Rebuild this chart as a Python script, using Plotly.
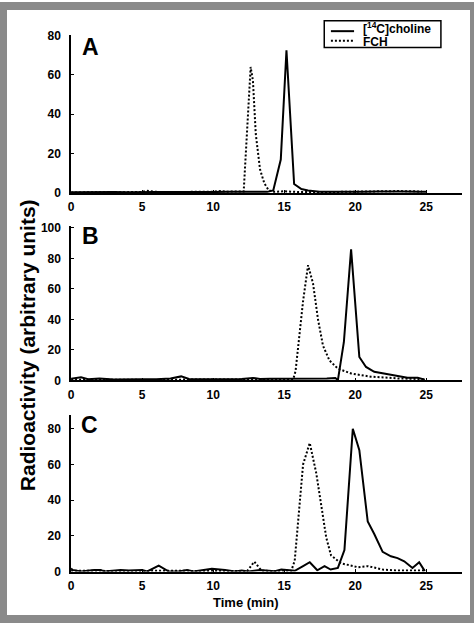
import plotly.graph_objects as go

# ---------------- data ----------------
# Panel A
a_chol_t = [0, 1, 2, 3, 4, 5, 6, 7, 8, 9, 10, 11, 12, 13, 13.8, 14.23, 14.76, 15.16, 15.7, 16.21, 16.68, 17.5, 18.5, 19.5, 20.5, 21.5, 22.5, 23.5, 24.5, 25.0]
a_chol_v = [0.4, 0.5, 0.4, 0.5, 0.4, 0.6, 0.5, 0.5, 0.4, 0.5, 0.5, 0.6, 0.5, 0.5, 0.6, 1.3, 17, 72.5, 4.6, 2.0, 1.3, 0.7, 0.6, 0.6, 0.7, 0.8, 0.9, 0.8, 0.7, 0.6]
a_fch_t = [0, 1, 2, 3, 4, 5, 5.3, 6, 7, 8, 9, 10, 10.5, 11, 11.7, 12.15, 12.64, 12.8, 13.0, 13.3, 13.6, 13.9, 14.2, 15, 16, 17, 18, 19, 20, 21, 22, 23, 24, 24.7]
a_fch_v = [0.3, 0.3, 0.3, 0.4, 0.3, 0.5, 1.2, 0.6, 0.5, 0.5, 0.6, 0.7, 1.0, 0.7, 0.8, 0.8, 64, 57, 30, 12, 5, 1.5, 0.6, 0.9, 0.5, 0.4, 0.5, 0.6, 0.8, 0.9, 0.9, 1.0, 0.9, 0.8]

# Panel B
b_chol_t = [0, 0.7, 1.2, 2, 3, 4, 5, 6, 7, 7.75, 8.3, 9, 10, 11, 12, 12.8, 13.3, 14, 15, 16, 17, 18, 18.6, 18.78, 19.2, 19.71, 20.29, 20.76, 21.34, 22.28, 22.98, 23.68, 24.4, 24.9]
b_chol_v = [1.0, 2.0, 0.8, 1.2, 0.6, 0.8, 0.8, 0.7, 1.2, 2.6, 0.9, 0.8, 0.9, 1.0, 0.9, 1.6, 0.9, 1.0, 1.0, 1.1, 1.2, 1.2, 1.6, 0.2, 25, 86, 15.3, 8.8, 5.6, 3.9, 3.0, 1.7, 1.7, 0.5]
b_fch_t = [0, 2, 4, 6, 8, 10, 12, 14, 15.4, 15.63, 15.8, 16.0, 16.33, 16.68, 17.03, 17.38, 17.73, 18.19, 18.78, 19.71, 21.1, 22.98, 24.9]
b_fch_v = [0.4, 0.3, 0.4, 0.3, 0.5, 0.4, 0.4, 0.4, 0.5, 0.6, 6, 22, 52, 75.5, 63.6, 40, 22.8, 13, 7.7, 4.5, 2.4, 1.3, 0.8]

# Panel C
c_chol_t = [0.0, 0.1, 0.69, 1.62, 2.09, 2.32, 3.49, 4.07, 5.0, 5.36, 6.17, 6.88, 7.58, 8.16, 8.63, 9.44, 9.91, 10.84, 11.54, 12.01, 12.48, 13.29, 13.88, 14.34, 14.8, 15.28, 15.75, 16.33, 16.8, 17.33, 17.84, 18.27, 18.78, 19.24, 19.83, 20.29, 20.88, 21.34, 21.93, 22.51, 22.98, 23.45, 24.03, 24.5, 24.9]
c_chol_v = [1.8, 0.9, 0.0, 0.9, 0.9, 0.0, 0.9, 0.5, 0.9, 0.0, 3.3, 0.0, 0.0, 0.9, 0.0, 0.9, 1.5, 0.9, 0.0, 0.5, 0.0, 0.9, 0.4, 0.2, 1.1, 0.6, 0.4, 3.0, 5.2, 0.7, 3.0, 1.1, 2.0, 12, 80, 68, 28, 21, 11, 8.5, 7.5, 5.7, 2.0, 5.2, 0.2]
c_fch_t = [0, 1, 2, 3, 4, 5, 6, 7, 8, 9, 10, 11, 12, 12.4, 12.9, 13.4, 14, 15, 15.5, 15.74, 16.1, 16.33, 16.8, 17.26, 17.61, 17.96, 18.3, 19.0, 20.2, 20.9, 22.0, 23.1, 25.0]
c_fch_v = [0.4, 0.3, 0.5, 0.3, 0.4, 0.3, 0.4, 0.3, 0.5, 0.3, 0.4, 0.3, 0.3, 0.3, 5.5, 0.5, 0.3, 0.5, 0.4, 6, 39, 60, 72, 55, 37, 19, 9, 4.6, 2.4, 3.0, 1.0, 0.5, 0.5]

x_ticks = [0, 5, 10, 15, 20, 25]
y_ticks_a = [0, 20, 40, 60, 80]
y_ticks_b = [0, 20, 40, 60, 80, 100]
y_ticks_c = [0, 20, 40, 60, 80]
panel_letters = ["A", "B", "C"]
legend_labels = ["[<sup>14</sup>C]choline", "FCH"]
y_title = "Radioactivity (arbitrary units)"
x_title = "Time (min)"

# ---------------- figure ----------------
FONT = "Liberation Sans, Arial, Helvetica, sans-serif"
W, H = 474, 626

fig = go.Figure()

panels = [
    (a_chol_t, a_chol_v, a_fch_t, a_fch_v, "x", "y"),
    (b_chol_t, b_chol_v, b_fch_t, b_fch_v, "x2", "y2"),
    (c_chol_t, c_chol_v, c_fch_t, c_fch_v, "x3", "y3"),
]
for ct, cv, ft, fv, xa, ya in panels:
    fig.add_trace(go.Scatter(x=ft, y=fv, mode="lines", xaxis=xa, yaxis=ya,
                             line=dict(color="black", width=2, dash="2px,2px"),
                             name="FCH", showlegend=False, hoverinfo="skip"))
    fig.add_trace(go.Scatter(x=ct, y=cv, mode="lines", xaxis=xa, yaxis=ya,
                             line=dict(color="black", width=2),
                             name="[14C]choline", showlegend=False, hoverinfo="skip"))

x_dom = [68.5 / W, 461.7 / W]
tickfont = dict(family=FONT, size=12, color="black", weight="bold")

def xax(anchor):
    return dict(domain=x_dom, range=[0, 27.5], tickvals=x_ticks, anchor=anchor,
                showline=True, linecolor="black", linewidth=1.5, ticks="inside",
                ticklen=3, tickcolor="black", tickwidth=1, showgrid=False,
                zeroline=False, tickfont=tickfont, ticklabelstandoff=2, fixedrange=True)

def yax(anchor, dom, rng, tv):
    return dict(domain=dom, range=rng, tickvals=tv, anchor=anchor,
                showline=True, linecolor="black", linewidth=1.5, ticks="inside",
                ticklen=3, tickcolor="black", tickwidth=1, showgrid=False,
                zeroline=False, tickfont=tickfont, ticklabelstandoff=6, fixedrange=True)

fig.update_layout(
    width=W, height=H,
    margin=dict(l=0, r=0, t=0, b=0),
    paper_bgcolor="white", plot_bgcolor="rgba(0,0,0,0)",
    showlegend=False,
    xaxis=xax("y"), xaxis2=xax("y2"), xaxis3=xax("y3"),
    yaxis=yax("x", [1 - 191 / H, 1 - 29.3 / H], [0, 80.4], y_ticks_a),
    yaxis2=yax("x2", [1 - 382.3 / H, 1 - 225 / H], [0, 101], y_ticks_b),
    yaxis3=yax("x3", [1 - 577.5 / H, 1 - 418 / H], [0, 87.5], y_ticks_c),
)

annotations = []
for letter, (px, py) in zip(panel_letters, [(88, 42), (88, 235), (87, 428)]):
    annotations.append(dict(text=letter, x=px / W, y=1 - py / H, xref="paper", yref="paper",
                            showarrow=False, xanchor="center", yanchor="middle",
                            font=dict(family=FONT, size=23, color="black", weight="bold")))
annotations.append(dict(text=y_title, x=24 / W, y=1 - 346.5 / H, xref="paper", yref="paper",
                        showarrow=False, textangle=-90, xanchor="center", yanchor="middle",
                        font=dict(family=FONT, size=21, color="black", weight="bold")))
annotations.append(dict(text=x_title, x=245 / W, y=1 - 609 / H, xref="paper", yref="paper",
                        showarrow=False, xanchor="center", yanchor="middle",
                        font=dict(family=FONT, size=13, color="black", weight="bold")))
# legend texts: first row anchored by its bottom, second by its top
annotations.append(dict(text=legend_labels[0], x=361 / W, y=1 - 31.5 / H, xref="paper", yref="paper",
                        showarrow=False, xanchor="left", yanchor="bottom", borderpad=0,
                        font=dict(family=FONT, size=12, color="black", weight="bold")))
annotations.append(dict(text=legend_labels[1], x=361 / W, y=1 - 28.5 / H, xref="paper", yref="paper",
                        showarrow=False, xanchor="left", yanchor="top", borderpad=0,
                        font=dict(family=FONT, size=12, color="black", weight="bold")))
fig.update_layout(annotations=annotations)

shapes = [
    # outer grey frame
    dict(type="rect", xref="paper", yref="paper", x0=0, y0=0, x1=1, y1=1,
         line=dict(color="#8a8a8a", width=8), fillcolor="rgba(0,0,0,0)"),
    # legend box
    dict(type="rect", xref="paper", yref="paper", x0=323.3 / W, x1=440.7 / W,
         y0=1 - 42.3 / H, y1=1 - 15 / H, line=dict(color="black", width=1.5)),
    dict(type="line", xref="paper", yref="paper", x0=330 / W, x1=353.3 / W,
         y0=1 - 25.7 / H, y1=1 - 25.7 / H, line=dict(color="black", width=2)),
    dict(type="line", xref="paper", yref="paper", x0=330 / W, x1=353.3 / W,
         y0=1 - 35.5 / H, y1=1 - 35.5 / H, line=dict(color="black", width=2, dash="2px,2px")),
]
fig.update_layout(shapes=shapes)

fig.write_html("out.html", config=dict(displayModeBar=False),
               post_script="document.body.style.margin='0';document.body.style.overflow='hidden';")
